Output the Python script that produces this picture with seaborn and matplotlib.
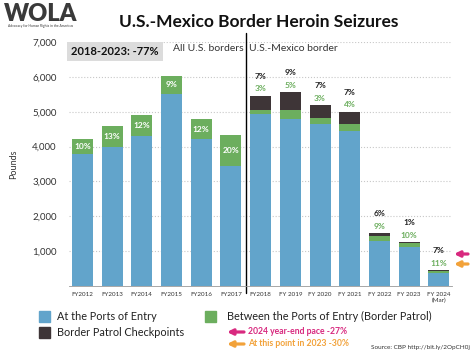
import matplotlib
matplotlib.use("Agg")
import matplotlib.pyplot as plt
import numpy as np
import pandas as pd
import seaborn as sns

years = ['FY2012', 'FY2013', 'FY2014', 'FY2015', 'FY2016', 'FY2017', 'FY2018',
         'FY 2019', 'FY 2020', 'FY 2021', 'FY 2022', 'FY 2023', 'FY 2024\n(Mar)']
ports = [3790, 3980, 4300, 5510, 4210, 3450, 4920, 4780, 4660, 4440, 1288, 1113, 375]
between = [420, 600, 600, 520, 570, 890, 140, 260, 160, 210, 136, 125, 50]
checkpoints = [0, 0, 0, 0, 0, 0, 400, 520, 360, 345, 91, 12, 32]
between_pct = ['10%', '13%', '12%', '9%', '12%', '20%', '3%', '5%', '3%', '4%', '9%', '10%', '11%']
check_pct = [None] * 6 + ['7%', '9%', '7%', '7%', '6%', '1%', '7%']

BLUE = '#62a4cb'
GREEN = '#6cae5e'
DARK = '#3e3537'
PINK = '#d8297f'
ORANGE = '#f2a23a'
TXT = '#333333'

sns.set_style("white")
plt.rcParams['font.family'] = ['Lato', 'DejaVu Sans']

df = pd.DataFrame({'year': years, 'ports': ports, 'between': between, 'check': checkpoints})
df['mid'] = df['ports'] + df['between']
df['total'] = df['mid'] + df['check']

fig = plt.figure(figsize=(4.74, 3.55), dpi=100)
ax = fig.add_axes([0.1456, 0.1944, 0.808, 0.6873])

# stacked bars by layering cumulative totals
sns.barplot(data=df, x='year', y='total', order=years, color=DARK, saturation=1,
            width=0.71, linewidth=0, ax=ax)
sns.barplot(data=df, x='year', y='mid', order=years, color=GREEN, saturation=1,
            width=0.71, linewidth=0, ax=ax)
sns.barplot(data=df, x='year', y='ports', order=years, color=BLUE, saturation=1,
            width=0.71, linewidth=0, ax=ax)

ax.set_ylim(0, 7000)
ax.set_xlim(-0.45, 12.44)
ax.set_yticks(range(1000, 8000, 1000))
ax.set_yticklabels([f'{v:,}' for v in range(1000, 8000, 1000)], fontsize=7, color=TXT)
ax.tick_params(axis='y', length=4, color='#bbbbbb', pad=5, width=0.6)
ax.tick_params(axis='x', length=0, pad=4, labelsize=4.5, labelcolor=TXT)
ax.yaxis.grid(True, linestyle=':', color='#c8c8c8', linewidth=0.8)
ax.set_axisbelow(True)
for s in ['top', 'right', 'left']:
    ax.spines[s].set_visible(False)
ax.spines['bottom'].set_color('#999999')
ax.spines['bottom'].set_linewidth(0.6)
ax.set_xlabel('')
ax.set_ylabel('Pounds', fontsize=6.5, color=TXT, labelpad=10)

# percentage labels
for i in range(len(years)):
    if check_pct[i] is None:
        ax.text(i, ports[i] + between[i] / 2, between_pct[i], ha='center', va='center',
                color='white', fontsize=6, fontweight='bold')
    else:
        tot = df['total'][i]
        ax.text(i, tot + 200, between_pct[i], ha='center', va='center',
                color=GREEN, fontsize=6, fontweight='bold')
        ax.text(i, tot + 560, check_pct[i], ha='center', va='center',
                color='#222222', fontsize=6, fontweight='bold')

# divider between all-border and mexico-border data
ax.plot([5.5, 5.5], [-200, 7260], color='black', lw=1, clip_on=False)
ax.text(5.42, 6800, 'All U.S. borders', ha='right', va='center', fontsize=7.5, color=TXT)
ax.text(5.6, 6800, 'U.S.-Mexico border', ha='left', va='center', fontsize=7.5, color=TXT)
ax.text(115 / 474, 1 - 51.5 / 355, '2018-2023: -77%', transform=fig.transFigure,
        ha='center', va='center', fontsize=8, fontweight='bold', color='#111111',
        bbox=dict(boxstyle='square,pad=0.35', fc='#dcdcdc', ec='none'))


def arrow(x0, x1, y, c):
    ax.annotate('', xy=(x0 / 474, 1 - y / 355), xytext=(x1 / 474, 1 - y / 355),
                xycoords='figure fraction',
                arrowprops=dict(arrowstyle='-|>', color=c, lw=2.3, mutation_scale=8,
                                shrinkA=0, shrinkB=0))


# right-side arrows for FY2024
arrow(454, 468, 254, PINK)
arrow(454, 468, 264, ORANGE)

# title and logo
fig.text(259 / 474, 1 - 27 / 355, 'U.S.-Mexico Border Heroin Seizures', ha='center',
         va='baseline', fontsize=12.5, fontweight='bold', color='#111111')
fig.text(41 / 474, 1 - 21 / 355, 'WOLA', ha='center', va='baseline', fontsize=17,
         fontweight='heavy', color='#3a3a3a')
fig.text(41 / 474, 1 - 26 / 355, 'Advocacy for Human Rights in the Americas', ha='center',
         va='center', fontsize=2.4, color='#3a3a3a')

# legend
def square(x, y, c):
    fig.patches.append(plt.Rectangle((x / 474, 1 - (y + 5.5) / 355), 11 / 474, 11 / 355,
                                     transform=fig.transFigure, color=c, figure=fig))

square(39, 316, BLUE)
square(39, 332, DARK)
square(205, 316, GREEN)
fig.text(57 / 474, 1 - 316 / 355, 'At the Ports of Entry', va='center', fontsize=7.8, color='#222222')
fig.text(57 / 474, 1 - 332 / 355, 'Border Patrol Checkpoints', va='center', fontsize=7.8, color='#222222')
fig.text(227 / 474, 1 - 316 / 355, 'Between the Ports of Entry (Border Patrol)', va='center',
         fontsize=7.8, color='#222222')

arrow(227, 244, 332, PINK)
arrow(227, 244, 344, ORANGE)
fig.text(248 / 474, 1 - 332 / 355, '2024 year-end pace -27%', va='center', fontsize=6.2,
         fontweight='bold', color=PINK)
fig.text(248 / 474, 1 - 344 / 355, 'At this point in 2023 -30%', va='center', fontsize=6.2,
         fontweight='bold', color=ORANGE)
fig.text(470 / 474, 1 - 347 / 355, 'Source: CBP http://bit.ly/2OpCH0j', ha='right',
         va='center', fontsize=4.6, color='#333333')

fig.savefig('out.png', dpi=100)
